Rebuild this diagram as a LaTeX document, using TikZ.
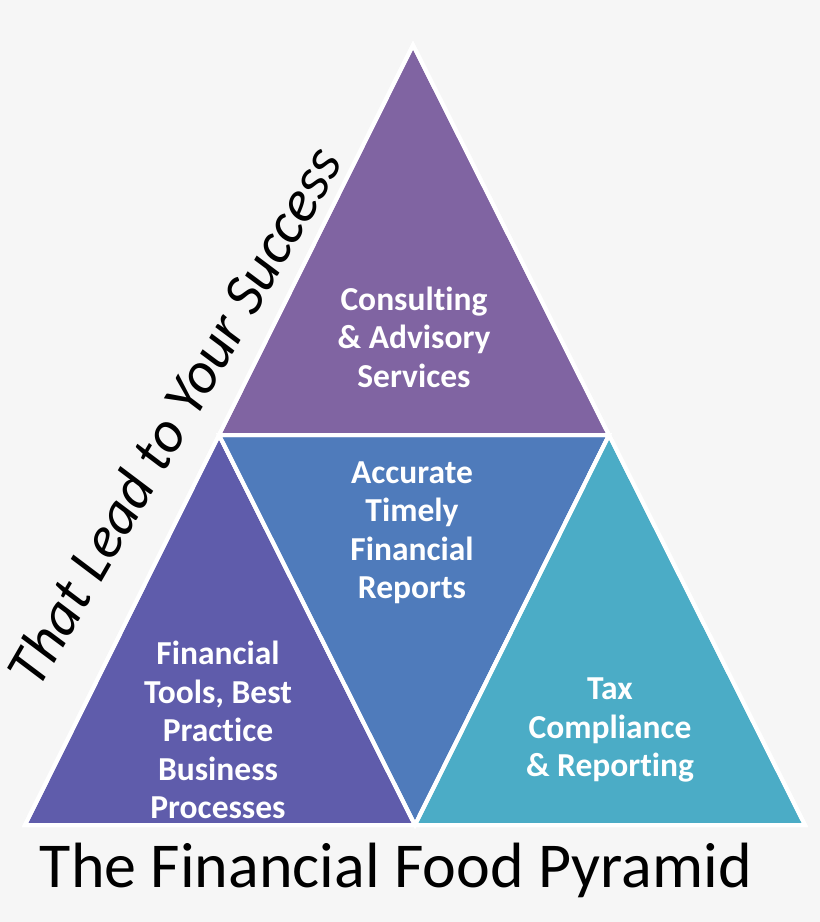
\documentclass[tikz,border=0pt]{standalone}
\usepackage{fontspec}
\setmainfont{Carlito}[Ligatures=NoCommon]
\definecolor{bggray}{HTML}{F6F6F6}
\definecolor{toppurple}{HTML}{8064A2}
\definecolor{leftviolet}{HTML}{5F5CAB}
\definecolor{midblue}{HTML}{4F7BBB}
\definecolor{rightaqua}{HTML}{4BACC6}
\tikzset{
  block/.style={draw=white, line width=4pt, line join=miter},
  blocktext/.style={text=white, font=\bfseries\fontsize{33.5}{38.5}\selectfont, align=center, inner sep=0pt},
}

\begin{document}
\begin{tikzpicture}[x=1pt, y=-1pt]
                \useasboundingbox[fill=bggray] (0,0) rectangle (820,922);
                % corners of the pyramid
                \coordinate (apex) at (413,45);
                \coordinate (lmid) at (219,435);
                \coordinate (rmid) at (609,435);
                \coordinate (bl) at (25,825);
                \coordinate (bmid) at (415,825);
                \coordinate (br) at (805,825);
                \fill[block, fill=toppurple] (apex) -- (rmid) -- (lmid) -- cycle;
                \fill[block, fill=leftviolet] (lmid) -- (bmid) -- (bl) -- cycle;
                \fill[block, fill=midblue] (lmid) -- (rmid) -- (bmid) -- cycle;
                \fill[block, fill=rightaqua] (rmid) -- (br) -- (bmid) -- cycle;
                \draw[block] (apex) -- (rmid) -- (lmid) -- cycle;
                \draw[block] (lmid) -- (bmid) -- (bl) -- cycle;
                \draw[block] (rmid) -- (br) -- (bmid) -- cycle;
                % labels
                \node[blocktext] (consult) at (414,337) {Consulting\\\& Advisory\\Services};
                \node[blocktext] (reports) at (412,533) {Accurate\\Timely\\Financial\\Reports};
                \node[blocktext] (tools) at (218,730) {Financial\\Tools, Best\\Practice\\Business\\Processes};
                \node[blocktext] (tax) at (610,730) {Tax\\Compliance\\\& Reporting};
                \node[rotate=60, font=\itshape\fontsize{59}{61}\selectfont, inner sep=0pt] (success) at (174,416) {That Lead to Your Success};
                \node[font=\fontsize{64}{70}\selectfont] (title) at (396,870) {The Financial Food Pyramid};
            \end{tikzpicture}
\end{document}
